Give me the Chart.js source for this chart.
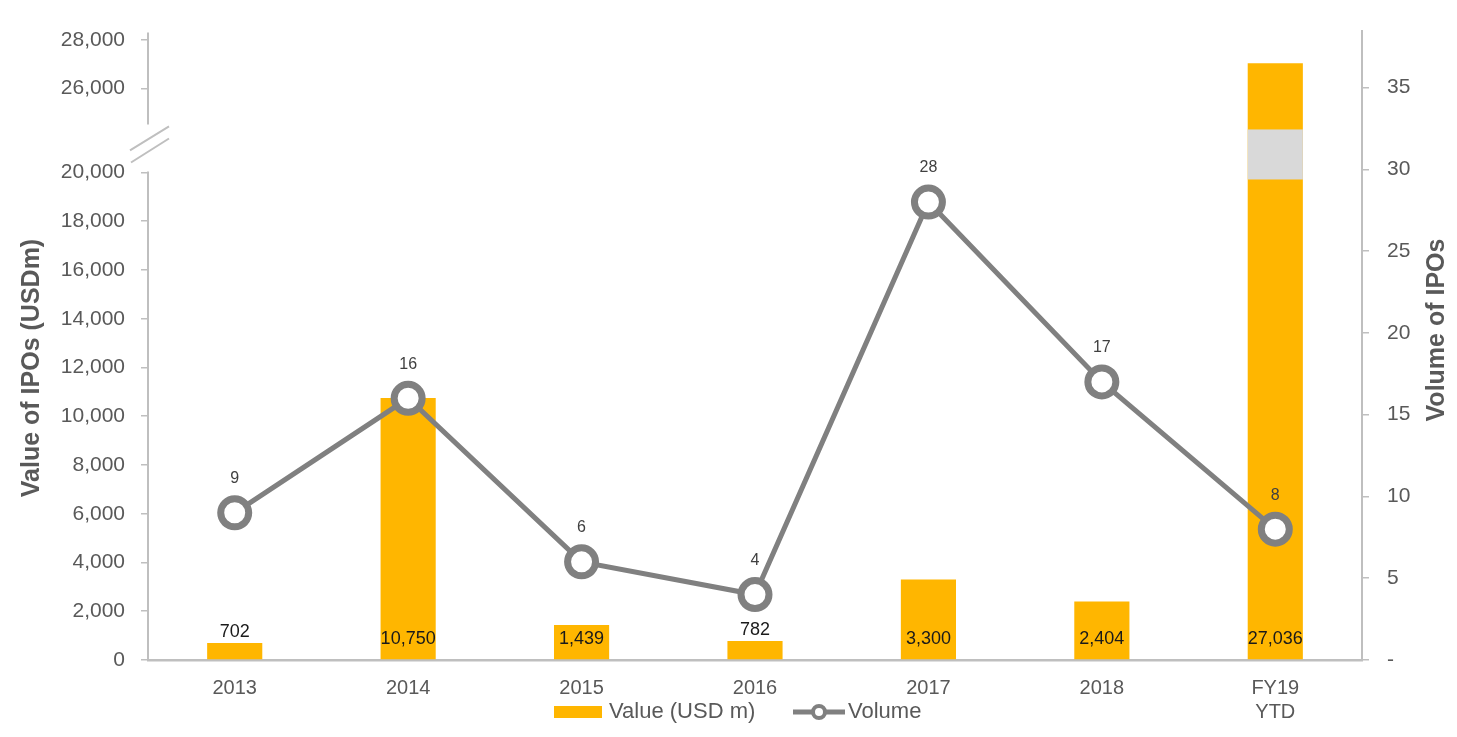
<!DOCTYPE html>
<html>
<head>
<meta charset="utf-8">
<script src="https://cdn.jsdelivr.net/npm/chart.js@4.4.1/dist/chart.umd.min.js"></script>
<style>
  html, body { margin: 0; padding: 0; background: #ffffff; }
  #wrap { width: 1457px; height: 737px; position: relative; }
</style>
</head>
<body>
<div id="wrap"><canvas id="c" width="1457" height="737"></canvas></div>
<script>
// ---- data ----
const categories = [['2013'], ['2014'], ['2015'], ['2016'], ['2017'], ['2018'], ['FY19', 'YTD']];
const valueUSDm = [702, 10750, 1439, 782, 3300, 2404, 27036];
const volumeIPOs = [9, 16, 6, 4, 28, 17, 8];
const leftTicks = [0, 2000, 4000, 6000, 8000, 10000, 12000, 14000, 16000, 18000, 20000, 26000, 28000];
const rightTicks = [0, 5, 10, 15, 20, 25, 30, 35];
const legendLabels = ['Value (USD m)', 'Volume'];
const axisTitles = ['Value of IPOs (USDm)', 'Volume of IPOs'];

// axis break: values above BREAK_LO are shifted down by BREAK_GAP
const BREAK_LO = 20000;
const BREAK_GAP = 2560;

const ORANGE = '#FFB600';
const GREY = '#808080';
const AXIS = '#bfbfbf';
const TEXT = '#595959';
const FONT = "'Liberation Sans', Arial, sans-serif";

class BrokenLinearScale extends Chart.LinearScale {
  static id = 'brokenLinear';
  static defaults = Chart.LinearScale.defaults;
  _compress(v) { return v > BREAK_LO ? v - BREAK_GAP : v; }
  getPixelForValue(v) {
    if (v === null || v === undefined) return NaN;
    return super.getPixelForValue(this._compress(v));
  }
  getValueForPixel(p) {
    const c = super.getValueForPixel(p);
    return c > BREAK_LO ? c + BREAK_GAP : c;
  }
}
Chart.register(BrokenLinearScale);

Chart.defaults.font.family = FONT;
Chart.defaults.color = TEXT;

const decorPlugin = {
  id: 'decor',
  afterDatasetDraw(chart, args) {
    if (args.index !== 0) return;
    // grey break band on the tall bar
    const meta = chart.getDatasetMeta(0);
    const y = chart.scales.y;
    const p20 = y.getPixelForValue(BREAK_LO);
    meta.data.forEach((bar, i) => {
      if (valueUSDm[i] > BREAK_LO) {
        const ctx = chart.ctx;
        ctx.save();
        ctx.fillStyle = '#d9d9d9';
        const w = bar.width;
        ctx.fillRect(bar.x - w / 2, p20 - 43, w, 50);
        ctx.restore();
      }
    });
  },
  afterDatasetsDraw(chart) {
    const ctx = chart.ctx;
    const y = chart.scales.y;
    const area = chart.chartArea;
    ctx.save();
    // bar value labels
    ctx.font = '18px ' + FONT;
    ctx.fillStyle = '#1a1a1a';
    ctx.textAlign = 'center';
    ctx.textBaseline = 'middle';
    chart.getDatasetMeta(0).data.forEach((bar, i) => {
      const h = area.bottom - bar.y;
      const ty = h > 30 ? area.bottom - 21 : bar.y - 11;
      ctx.fillText(valueUSDm[i].toLocaleString('en-US'), bar.x, ty);
    });
    // line value labels
    ctx.font = '16px ' + FONT;
    ctx.fillStyle = '#404040';
    chart.getDatasetMeta(1).data.forEach((pt, i) => {
      ctx.fillText(String(volumeIPOs[i]), pt.x, pt.y - 34);
    });

    // left axis split line + break marks
    const x0 = y.right;
    const p20 = y.getPixelForValue(BREAK_LO);
    ctx.strokeStyle = AXIS;
    ctx.lineWidth = 2;
    ctx.beginPath();
    ctx.moveTo(x0, area.top + 2);
    ctx.lineTo(x0, p20 - 48);
    ctx.moveTo(x0, p20 - 1);
    ctx.lineTo(x0, area.bottom);
    ctx.moveTo(x0 - 18, p20 - 22);
    ctx.lineTo(x0 + 21, p20 - 46);
    ctx.moveTo(x0 - 17, p20 - 10);
    ctx.lineTo(x0 + 21, p20 - 34);
    ctx.stroke();

    // axis titles
    ctx.fillStyle = TEXT;
    ctx.font = 'bold 25px ' + FONT;
    ctx.textAlign = 'center';
    ctx.textBaseline = 'middle';
    ctx.save();
    ctx.translate(32, 368);
    ctx.rotate(-Math.PI / 2);
    ctx.fillText(axisTitles[0], 0, 0);
    ctx.restore();
    ctx.save();
    ctx.translate(1437, 330);
    ctx.rotate(-Math.PI / 2);
    ctx.fillText(axisTitles[1], 0, 0);
    ctx.restore();

    // legend
    const ly = 712;
    ctx.fillStyle = ORANGE;
    ctx.fillRect(554, ly - 6, 48, 12);
    ctx.fillStyle = TEXT;
    ctx.font = '22px ' + FONT;
    ctx.textAlign = 'left';
    ctx.fillText(legendLabels[0], 609, ly);
    ctx.strokeStyle = GREY;
    ctx.lineWidth = 5;
    ctx.beginPath();
    ctx.moveTo(793, ly);
    ctx.lineTo(845, ly);
    ctx.stroke();
    ctx.beginPath();
    ctx.arc(819, ly, 6, 0, Math.PI * 2);
    ctx.fillStyle = '#fff';
    ctx.fill();
    ctx.lineWidth = 4;
    ctx.stroke();
    ctx.fillStyle = TEXT;
    ctx.fillText(legendLabels[1], 848, ly);
    ctx.restore();
  }
};

new Chart(document.getElementById('c'), {
  data: {
    labels: categories,
    datasets: [
      {
        type: 'bar',
        label: legendLabels[0],
        data: valueUSDm,
        backgroundColor: ORANGE,
        yAxisID: 'y',
        barPercentage: 0.318,
        categoryPercentage: 1,
        order: 2
      },
      {
        type: 'line',
        label: legendLabels[1],
        data: volumeIPOs,
        borderColor: GREY,
        borderWidth: 5,
        pointRadius: 14,
        pointHoverRadius: 14,
        pointBorderWidth: 7,
        pointBackgroundColor: '#ffffff',
        pointBorderColor: GREY,
        tension: 0,
        yAxisID: 'y1',
        order: 1
      }
    ]
  },
  options: {
    responsive: false,
    animation: false,
    layout: { padding: { top: 30, left: 0, right: 0, bottom: 0 } },
    plugins: { legend: { display: false }, tooltip: { enabled: false } },
    scales: {
      x: {
        grid: { display: false },
        border: { display: true, color: AXIS, width: 2.5 },
        ticks: { font: { size: 20 }, color: TEXT, padding: 8, maxRotation: 0 },
        afterFit: (s) => { s.height = 77; }
      },
      y: {
        type: 'brokenLinear',
        position: 'left',
        min: 0,
        max: 25820,
        grid: { display: true, drawOnChartArea: false, drawTicks: true, tickLength: 7, color: AXIS, lineWidth: 1.5 },
        border: { display: false },
        ticks: {
          font: { size: 21 }, color: TEXT, padding: 16,
          callback: (v) => Number(v).toLocaleString('en-US')
        },
        afterBuildTicks: (s) => { s.ticks = leftTicks.map(v => ({ value: v })); },
        afterFit: (s) => { s.width = 148; }
      },
      y1: {
        type: 'linear',
        position: 'right',
        min: 0,
        max: 38.48,
        grid: { display: true, drawOnChartArea: false, drawTicks: true, tickLength: 7, color: AXIS, lineWidth: 1.5 },
        border: { display: true, color: AXIS, width: 2 },
        ticks: {
          font: { size: 21 }, color: TEXT, padding: 18,
          callback: (v) => v === 0 ? '-' : String(v)
        },
        afterBuildTicks: (s) => { s.ticks = rightTicks.map(v => ({ value: v })); },
        afterFit: (s) => { s.width = 95; }
      }
    }
  },
  plugins: [decorPlugin]
});
</script>
</body>
</html>
